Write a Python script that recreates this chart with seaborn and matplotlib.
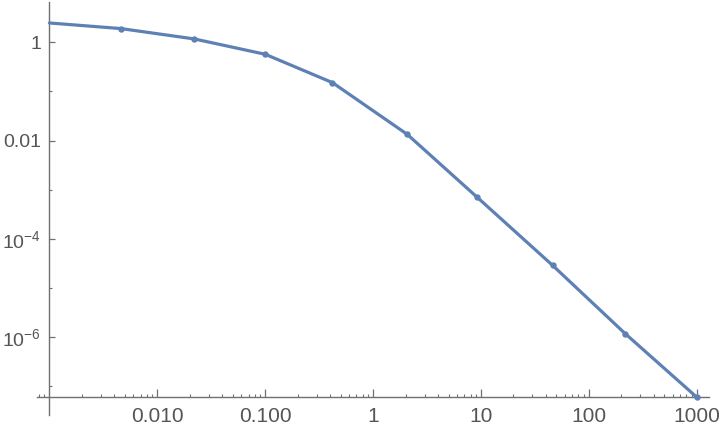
import matplotlib
matplotlib.use("Agg")
import matplotlib.pyplot as plt
import seaborn as sns
import pandas as pd
from matplotlib.ticker import FixedLocator, NullFormatter

# ---- data ----
x_vals = [0.001, 0.0046, 0.022, 0.1, 0.42, 2.07, 9.1, 46, 217, 1000]
y_vals = [2.47, 1.90, 1.17, 0.57, 0.151, 0.0134, 7.2e-4, 2.9e-5, 1.18e-6, 6.0e-8]

x_major = [0.01, 0.1, 1, 10, 100, 1000]
x_major_labels = ["0.010", "0.100", "1", "10", "100", "1000"]
y_major = [1, 0.01, 1e-4, 1e-6]
y_major_labels = ["1", "0.01", r"$\mathregular{10^{-4}}$", r"$\mathregular{10^{-6}}$"]
y_minor = [0.1, 1e-3, 1e-5, 1e-7]

sns.set_theme(style="white")
plt.rcParams["font.family"] = ["Liberation Sans", "DejaVu Sans"]
plt.rcParams["mathtext.fontset"] = "custom"
plt.rcParams["mathtext.rm"] = "Liberation Sans"
plt.rcParams["mathtext.it"] = "Liberation Sans:italic"

LINE = "#5E81B5"
AXC = "#707070"
TXT = "#555555"

fig = plt.figure(figsize=(7.2, 4.3), dpi=100)
W, H = 720, 430
left_px, right_px, top_px, bot_px = 37, 709, 2, 415
ax = fig.add_axes([left_px / W, 1 - bot_px / H, (right_px - left_px) / W, (bot_px - top_px) / H])

df = pd.DataFrame({"x": x_vals, "y": y_vals})
sns.lineplot(data=df, x="x", y="y", ax=ax, color=LINE, linewidth=2.3,
             marker="o", markersize=4.6, markeredgewidth=0, clip_on=False, zorder=3,
             markevery=list(range(1, len(x_vals))))

ax.set_xscale("log")
ax.set_yscale("log")
ax.set_xlim(7.67e-4, 1297)
ax.set_ylim(2.61e-8, 6.6)

# Mathematica-style crossing axes
ax.spines["left"].set_position(("data", min(x_vals)))
ax.spines["bottom"].set_position(("data", min(y_vals)))
ax.spines["top"].set_visible(False)
ax.spines["right"].set_visible(False)
for s in ("left", "bottom"):
    ax.spines[s].set_color(AXC)
    ax.spines[s].set_linewidth(1.0)

# x ticks
ax.xaxis.set_major_locator(FixedLocator(x_major))
ax.set_xticklabels(x_major_labels)
x_minor = []
for dec in [1e-4, 1e-3, 1e-2, 1e-1, 1, 10, 100]:
    for m in range(2, 10):
        v = m * dec
        if 7.7e-4 <= v <= 1297:
            x_minor.append(v)
ax.xaxis.set_minor_locator(FixedLocator(x_minor))
ax.xaxis.set_minor_formatter(NullFormatter())

# y ticks
ax.yaxis.set_major_locator(FixedLocator(y_major))
ax.set_yticklabels(y_major_labels)
ax.yaxis.set_minor_locator(FixedLocator(y_minor))
ax.yaxis.set_minor_formatter(NullFormatter())

ax.tick_params(axis="x", which="major", direction="in", length=5.5, width=0.9,
               color=AXC, labelsize=15, labelcolor=TXT, pad=7, bottom=True)
ax.tick_params(axis="x", which="minor", direction="in", length=2.5, width=0.8,
               color=AXC, bottom=True)
ax.tick_params(axis="y", which="major", direction="in", length=4, width=0.9,
               color=AXC, labelsize=14, labelcolor=TXT, pad=6, left=True)
ax.tick_params(axis="y", which="minor", direction="in", length=2, width=0.8,
               color=AXC, left=True)

ax.set_xlabel("")
ax.set_ylabel("")
ax.grid(False)
ax.set_facecolor("white")
fig.patch.set_facecolor("white")

fig.savefig("out.png", dpi=100)
